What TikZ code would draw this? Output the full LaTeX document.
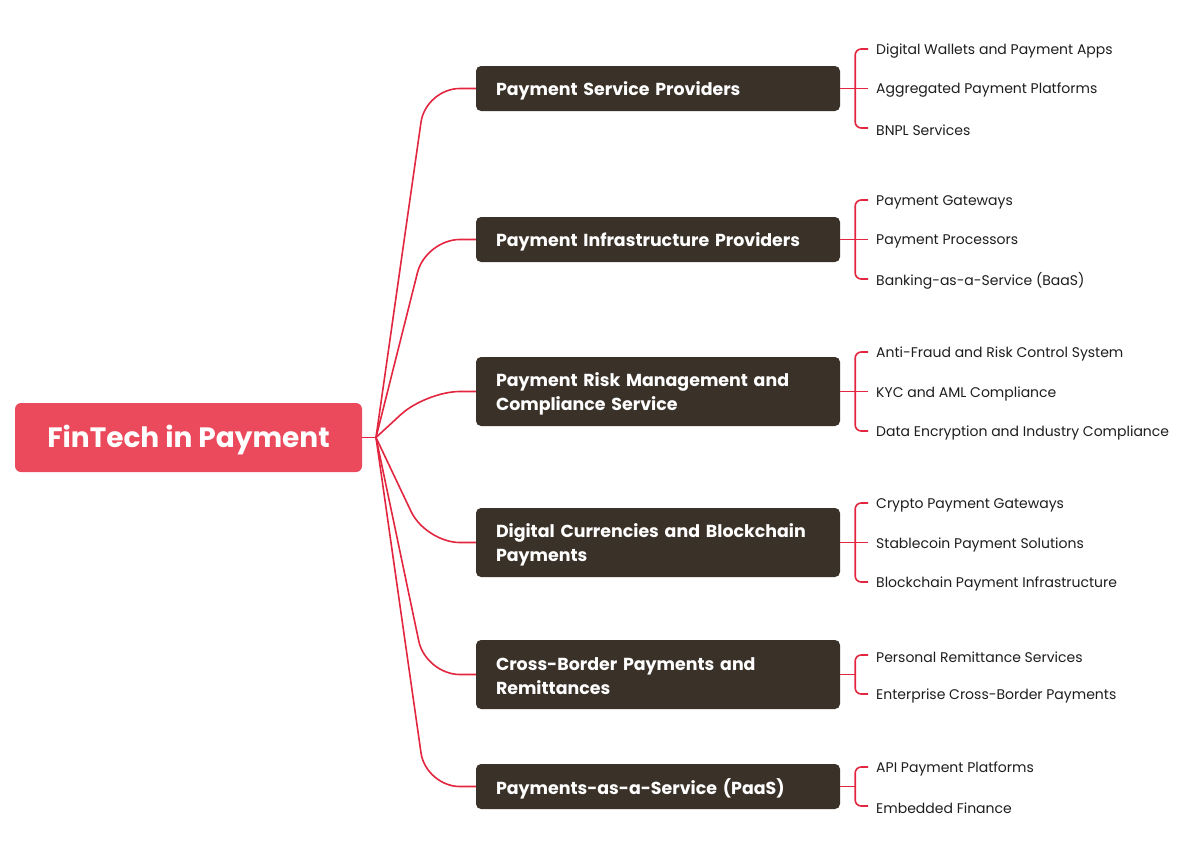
\documentclass[tikz,border=0pt]{standalone}
\usepackage{fontspec}
\setmainfont{Poppins}
\definecolor{rootred}{HTML}{EB4A5C}
\definecolor{linered}{HTML}{E3263F}
\definecolor{boxdark}{HTML}{3A3128}
\definecolor{leaftext}{HTML}{1E1E1E}
\begin{document}
\begin{tikzpicture}[x=1pt,y=-1pt,
  rootbox/.style={fill=rootred, rounded corners=6pt, minimum width=347pt, minimum height=69pt, inner sep=0pt},
  roottext/.style={text=white, font=\fontsize{28}{34}\selectfont\bfseries, inner sep=0pt},
  branchbox/.style={fill=boxdark, rounded corners=5pt, minimum width=364pt, inner sep=0pt},
  onebox/.style={branchbox, minimum height=45pt},
  twobox/.style={branchbox, minimum height=69pt},
  branchtext/.style={text width=324pt, align=left, inner sep=0pt, text=white,
    font=\fontsize{17.4}{24}\selectfont\bfseries},
  leaf/.style={anchor=west, inner xsep=8pt, inner ysep=2pt, yshift=-2pt, text=leaftext,
    font=\fontsize{14}{18}\selectfont},
  conn/.style={draw=linered, line width=1.6pt},
  trunk/.style={conn, rounded corners=34pt},
  bracket/.style={conn, rounded corners=6pt}
]
\useasboundingbox (0,0) rectangle (1200,852);
\fill[white] (0,0) rectangle (1200,852);

\node[rootbox] (root) at (188.5,437.5) {};
\node[roottext] (roott) at ([yshift=-2pt]root.center) {FinTech in Payment};
\coordinate (hub) at (376,437.5);

\node[onebox] (b1) at (658,88.5) {};
\node[onebox] (b2) at (658,239.5) {};
\node[twobox] (b3) at (658,391.5) {};
\node[twobox] (b4) at (658,542.5) {};
\node[twobox] (b5) at (658,674.5) {};
\node[onebox] (b6) at (658,786.5) {};
\node[branchtext] (t1) at ([yshift=-2pt]b1.center) {Payment Service Providers};
\node[branchtext] (t2) at ([yshift=-2pt]b2.center) {Payment Infrastructure Providers};
\node[branchtext] (t3) at ([yshift=-2pt]b3.center) {Payment Risk Management and\\Compliance Service};
\node[branchtext] (t4) at ([yshift=-2pt]b4.center) {Digital Currencies and Blockchain\\Payments};
\node[branchtext] (t5) at ([yshift=-2pt]b5.center) {Cross-Border Payments and\\Remittances};
\node[branchtext] (t6) at ([yshift=-2pt]b6.center) {Payments-as-a-Service (PaaS)};

\draw[conn] (root.east) -- (hub);
\foreach \b in {b1,b2,b3,b4,b5,b6}{
  \draw[trunk] (hub) -- ([xshift=-50pt]\b.west) -- (\b.west);
}

% leaves
\node[leaf] (l11) at (868,49) {Digital Wallets and Payment Apps};
\node[leaf] (l12) at (868,88.5) {Aggregated Payment Platforms};
\node[leaf] (l13) at (868,128) {BNPL Services};

\node[leaf] (l21) at (868,200) {Payment Gateways};
\node[leaf] (l22) at (868,239.5) {Payment Processors};
\node[leaf] (l23) at (868,279) {Banking-as-a-Service (BaaS)};

\node[leaf] (l31) at (868,352) {Anti-Fraud and Risk Control System};
\node[leaf] (l32) at (868,391.5) {KYC and AML Compliance};
\node[leaf] (l33) at (868,431) {Data Encryption and Industry Compliance};

\node[leaf] (l41) at (868,503) {Crypto Payment Gateways};
\node[leaf] (l42) at (868,542.5) {Stablecoin Payment Solutions};
\node[leaf] (l43) at (868,582) {Blockchain Payment Infrastructure};

\node[leaf] (l51) at (868,655) {Personal Remittance Services};
\node[leaf] (l52) at (868,694) {Enterprise Cross-Border Payments};

\node[leaf] (l61) at (868,767) {API Payment Platforms};
\node[leaf] (l62) at (868,806) {Embedded Finance};

% brackets, three leaves
\foreach \b/\t/\m/\e in {b1/l11/l12/l13, b2/l21/l22/l23, b3/l31/l32/l33, b4/l41/l42/l43}{
  \coordinate (\b j) at ([xshift=15pt]\b.east);
  \draw[conn] (\b.east) -- ([yshift=2pt]\m.west);
  \draw[bracket] ([yshift=2pt]\t.west) -| (\b j) |- ([yshift=2pt]\e.west);
}
% brackets, two leaves
\foreach \b/\t/\e in {b5/l51/l52, b6/l61/l62}{
  \coordinate (\b j) at ([xshift=15pt]\b.east);
  \draw[conn] (\b.east) -- (\b j);
  \draw[bracket] ([yshift=2pt]\t.west) -| (\b j) |- ([yshift=2pt]\e.west);
}
\end{tikzpicture}
\end{document}
